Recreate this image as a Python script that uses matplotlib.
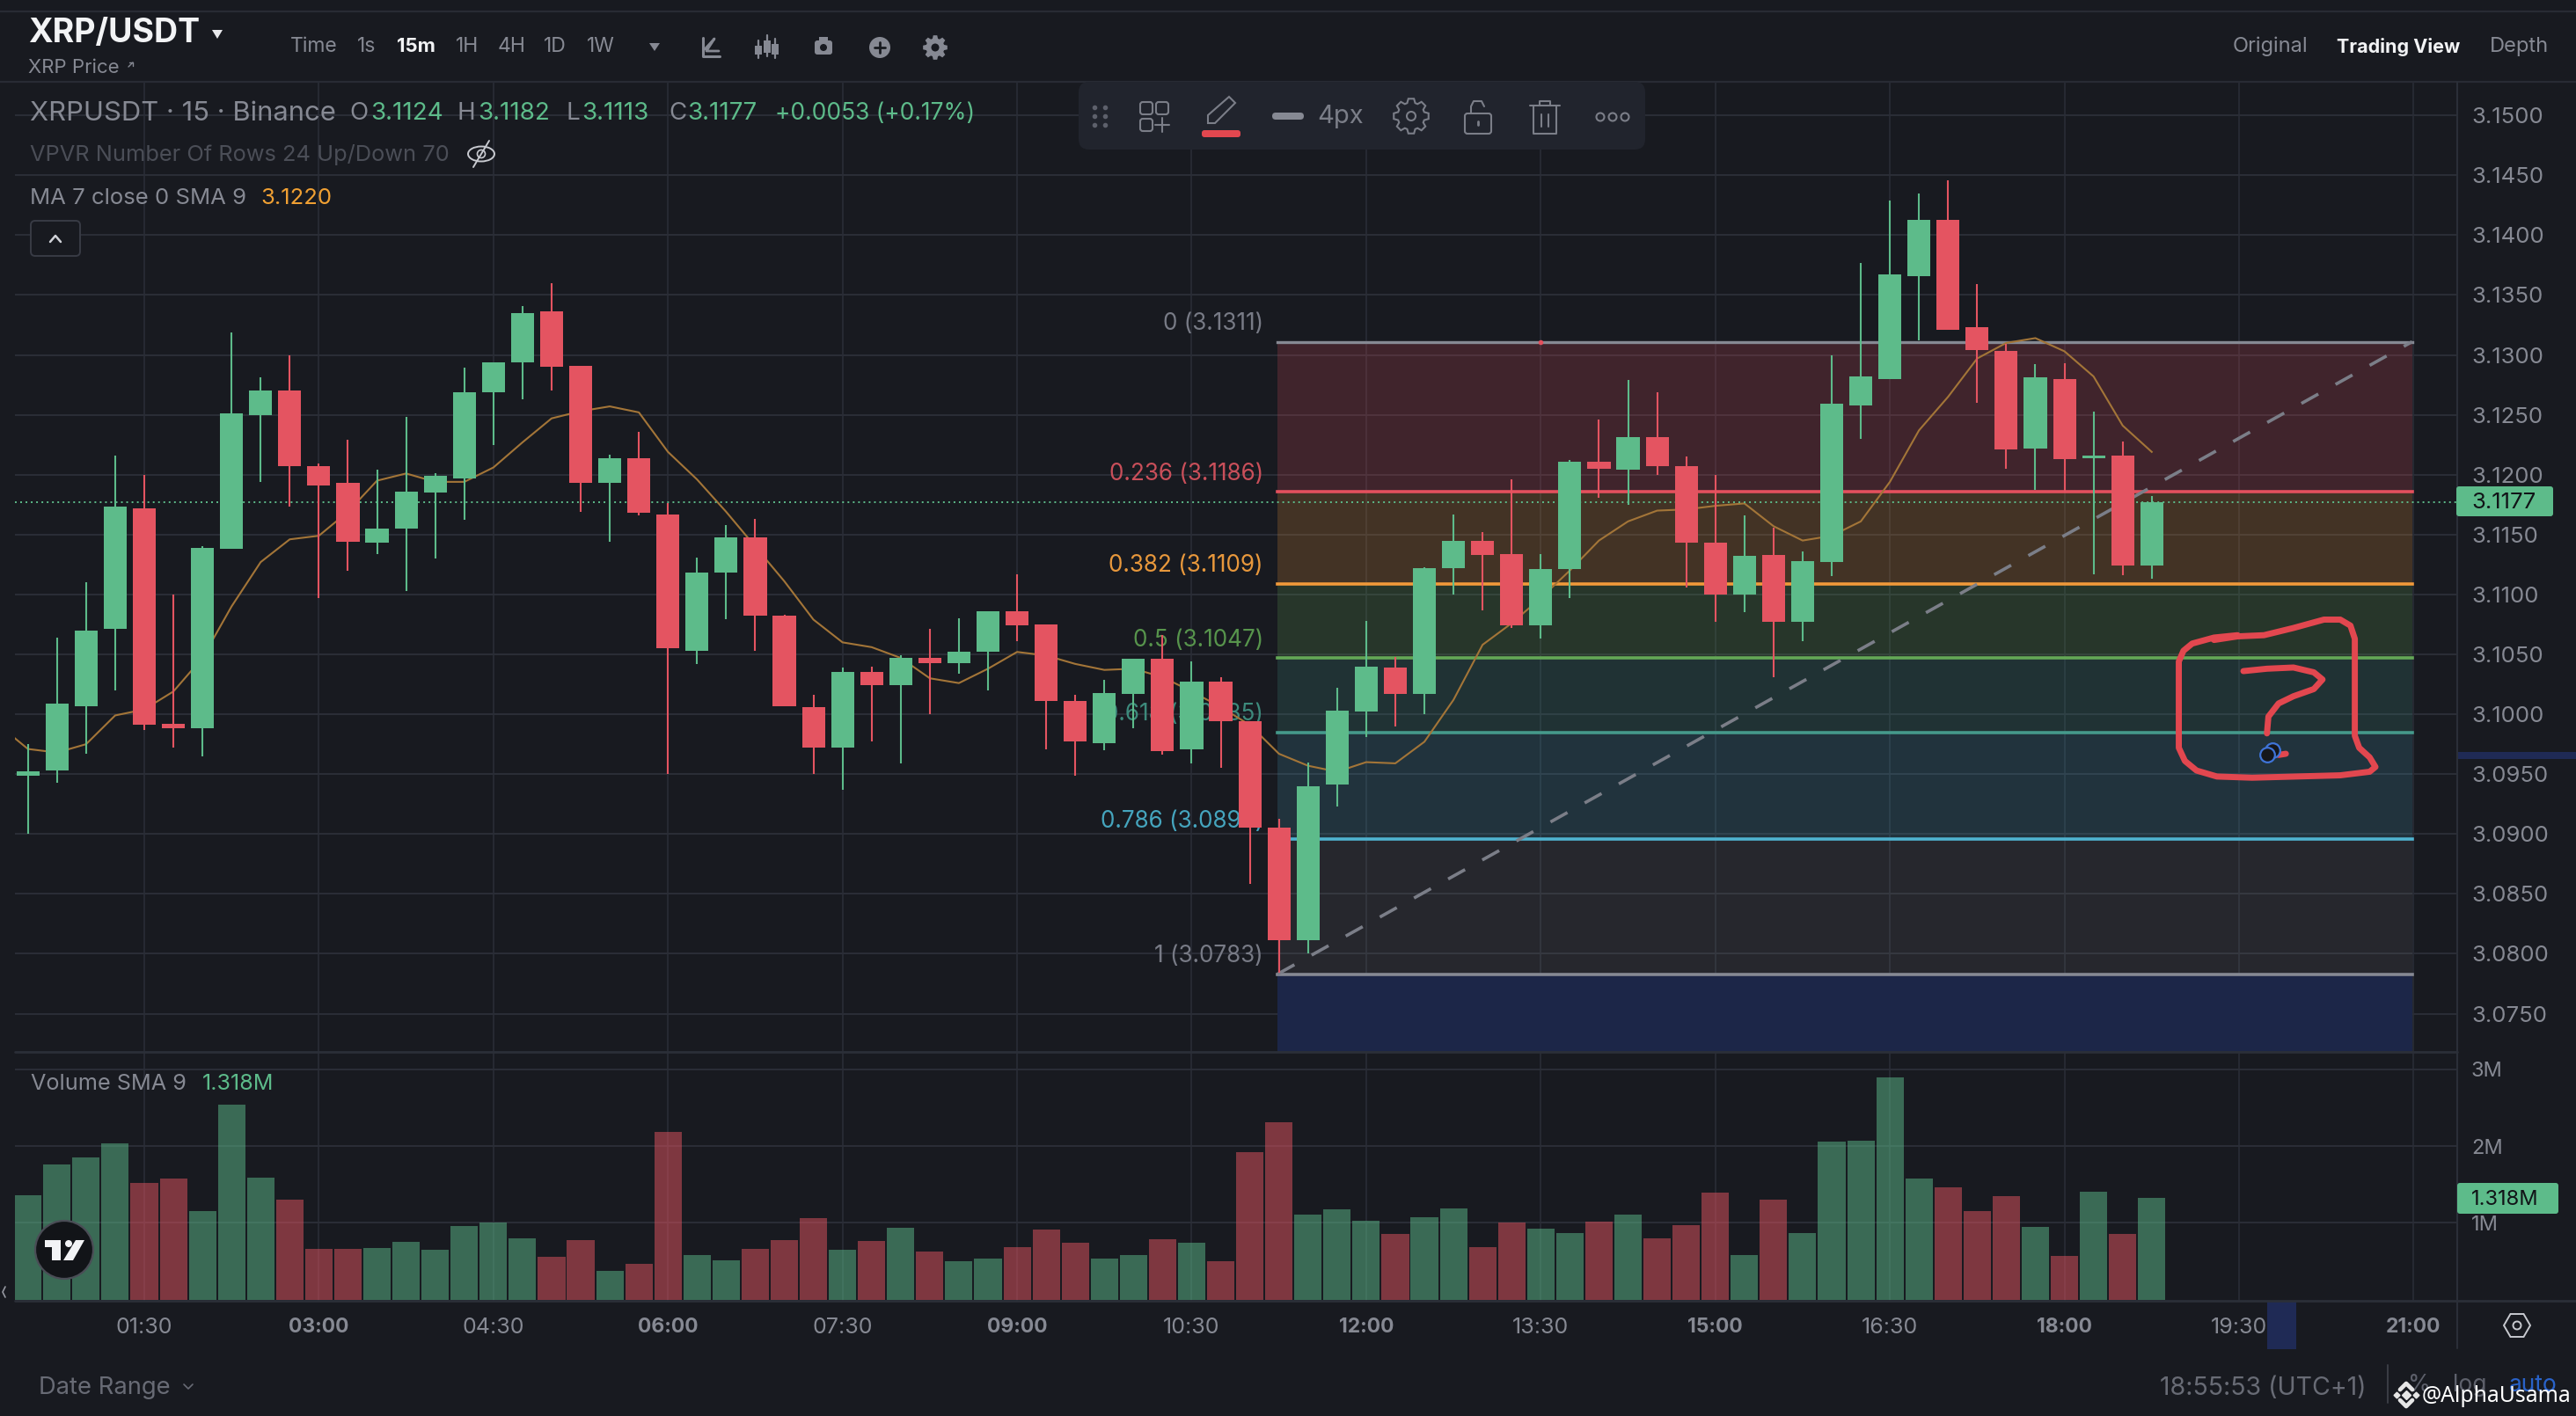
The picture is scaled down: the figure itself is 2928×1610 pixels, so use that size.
# xrp/usdt 15m chart, tradingview dark layout
import math
import matplotlib
matplotlib.use("Agg")
import matplotlib.pyplot as plt
from matplotlib.patches import Rectangle, FancyBboxPatch, Circle, Polygon, RegularPolygon, Ellipse

plt.rcParams['font.family'] = ['Inter', 'DejaVu Sans']

# candles
opens = [3.0949,3.0953,3.1007,3.1071,3.1172,3.0992,3.0988,3.1138,3.1250,3.1270,
         3.1207,3.1193,3.1143,3.1155,3.1185,3.1197,3.1269,3.1294,3.1336,3.1291,
         3.1193,3.1214,3.1167,3.1053,3.1118,3.1148,3.1082,3.1006,3.0972,3.1035,
         3.1024,3.1047,3.1043,3.1052,3.1086,3.1075,3.1011,3.0976,3.1017,3.1046,
         3.0971,3.1027,3.0994,3.0905,3.0811,3.0941,3.1002,3.1039,3.1017,3.1122,
         3.1145,3.1134,3.1074,3.1121,3.1211,3.1204,3.1231,3.1207,3.1143,3.1100,
         3.1133,3.1077,3.1127,3.1258,3.1280,3.1366,3.1413,3.1323,3.1303,3.1222,
         3.1280,3.1214,3.1216,3.1124]
highs = [3.0975,3.1064,3.1110,3.1216,3.1200,3.1100,3.1140,3.1319,3.1281,3.1300,
         3.1209,3.1229,3.1204,3.1248,3.1201,3.1289,3.1294,3.1341,3.1360,3.1291,
         3.1217,3.1236,3.1176,3.1131,3.1158,3.1163,3.1083,3.1016,3.1039,3.1040,
         3.1049,3.1071,3.1080,3.1086,3.1117,3.1075,3.1016,3.1029,3.1046,3.1066,
         3.1044,3.1031,3.0994,3.0913,3.0960,3.1022,3.1078,3.1048,3.1123,3.1167,
         3.1152,3.1196,3.1134,3.1212,3.1246,3.1279,3.1269,3.1215,3.1200,3.1166,
         3.1156,3.1136,3.1300,3.1377,3.1429,3.1435,3.1446,3.1359,3.1309,3.1292,
         3.1293,3.1253,3.1228,3.1182]
lows = [3.0900,3.0943,3.0967,3.1020,3.0987,3.0972,3.0965,3.1138,3.1194,3.1173,
        3.1097,3.1120,3.1134,3.1103,3.1130,3.1162,3.1225,3.1263,3.1270,3.1169,
        3.1144,3.1166,3.0950,3.1042,3.1079,3.1053,3.1007,3.0950,3.0937,3.0977,
        3.0959,3.1000,3.1034,3.1020,3.1061,3.0971,3.0949,3.0970,3.0988,3.0966,
        3.0959,3.0955,3.0858,3.0784,3.0800,3.0923,3.0981,3.0990,3.1000,3.1100,
        3.1087,3.1072,3.1063,3.1097,3.1181,3.1175,3.1200,3.1106,3.1077,3.1085,
        3.1031,3.1061,3.1115,3.1230,3.1280,3.1312,3.1321,3.1260,3.1205,3.1187,
        3.1185,3.1117,3.1116,3.1113]
closes = [3.0952,3.1009,3.1070,3.1173,3.0991,3.0988,3.1139,3.1251,3.1270,3.1207,
          3.1191,3.1144,3.1155,3.1186,3.1199,3.1269,3.1294,3.1335,3.1290,3.1193,
          3.1214,3.1168,3.1055,3.1118,3.1148,3.1082,3.1007,3.0972,3.1035,3.1024,
          3.1047,3.1043,3.1052,3.1086,3.1074,3.1011,3.0977,3.1018,3.1046,3.0969,
          3.1027,3.0994,3.0905,3.0811,3.0940,3.1003,3.1040,3.1017,3.1122,3.1145,
          3.1133,3.1074,3.1121,3.1211,3.1205,3.1231,3.1207,3.1143,3.1100,3.1132,
          3.1077,3.1128,3.1259,3.1282,3.1367,3.1413,3.1321,3.1304,3.1221,3.1281,
          3.1213,3.1216,3.1124,3.1177]

# MA line, first value sits one bar left of the pane
ma_values = [3.0991,3.0971,3.0968,3.0975,3.0999,3.1004,3.1019,3.1047,3.1090,3.1127,
             3.1146,3.1149,3.1169,3.1195,3.1201,3.1194,3.1194,3.1206,3.1227,3.1247,
             3.1253,3.1257,3.1252,3.1219,3.1196,3.1169,3.1140,3.1111,3.1079,3.1060,
             3.1056,3.1047,3.1030,3.1026,3.1038,3.1052,3.1049,3.1042,3.1037,3.1038,
             3.1031,3.1019,3.1006,3.0991,3.0967,3.0957,3.0952,3.0960,3.0959,3.0977,
             3.1012,3.1058,3.1076,3.1097,3.1120,3.1145,3.1161,3.1170,3.1171,3.1174,
             3.1176,3.1157,3.1145,3.1149,3.1161,3.1194,3.1237,3.1265,3.1297,3.1310,
             3.1314,3.1303,3.1282,3.1241,3.1219]

volumes = [1.355,1.756,1.847,2.030,1.515,1.573,1.156,2.538,1.584,1.298,
           0.664,0.664,0.676,0.756,0.653,0.962,1.008,0.802,0.561,0.779,
           0.374,0.469,2.180,0.580,0.515,0.664,0.779,1.065,0.653,0.767,
           0.939,0.630,0.500,0.534,0.687,0.916,0.744,0.534,0.580,0.790,
           0.744,0.504,1.916,2.305,1.110,1.172,1.030,0.859,1.076,1.183,
           0.683,1.000,0.927,0.870,1.019,1.103,0.802,0.973,1.389,0.580,
           1.298,0.870,2.053,2.065,2.893,1.573,1.458,1.149,1.344,0.943,
           0.573,1.401,0.859,1.321]

time_labels = ['01:30','03:00','04:30','06:00','07:30','09:00','10:30','12:00','13:30',
               '15:00','16:30','18:00','19:30','21:00']
time_bars = [4,10,16,22,28,34,40,46,52,58,64,70,76,82]
bold_times = ['03:00','06:00','09:00','12:00','15:00','18:00','21:00']

price_ticks = [3.15,3.145,3.14,3.135,3.13,3.125,3.12,3.115,3.11,3.105,3.10,3.095,3.09,3.085,3.08,3.075]
volume_ticks = [1,2,3]
volume_tick_labels = ['1M','2M','3M']

fib_ratios = ['0','0.236','0.382','0.5','0.618','0.786','1']
fib_levels = [3.1311,3.1186,3.1109,3.1047,3.0985,3.0896,3.0783]
fib_colors = ['#868993','#e4505d','#f0993a','#64a856','#459a8b','#4fb3d0','#868993']
fib_text_colors = ['#787b86','#c94f5a','#e8983c','#57944c','#3d8a7c','#45a5be','#787b86']
fib_start = 42.95
fib_end = 81.95

# hand drawn box and question mark (bar, price)
box_x = [75.95,75.14,74.39,74.09,73.93,73.93,74.14,74.54,75.24,76.45,77.97,79.48,80.49,
         80.69,80.49,80.13,79.98,79.98,79.83,79.48,78.92,77.87,76.86,75.95,75.14]
box_y = [3.1066,3.1064,3.1059,3.1053,3.1044,3.0972,3.0961,3.0953,3.0948,3.0947,3.0948,3.0949,3.0952,
         3.0956,3.0964,3.0972,3.0982,3.1063,3.1074,3.1079,3.1079,3.1072,3.1066,3.1065,3.1062]
mark_x = [76.15,76.96,77.87,78.57,78.87,78.57,77.87,77.36,77.01,76.96]
mark_y = [3.1036,3.1038,3.1039,3.1035,3.1029,3.1021,3.1015,3.1009,3.0998,3.0984]

BG = '#181a20'
GRID = '#2a2d36'
GREEN = '#5dbb8a'
RED = '#e45461'
GREY = '#868993'
W, H = 2928, 1610
PANE_L, PANE_R = 17, 2793

fig = plt.figure(figsize=(W/100, H/100), dpi=100, facecolor=BG)

def pane(top, bottom):
    a = fig.add_axes([PANE_L/W, 1-bottom/H, (PANE_R-PANE_L)/W, (bottom-top)/H], facecolor=BG)
    for s in a.spines.values():
        s.set_visible(False)
    a.set_axisbelow(True)
    a.set_xlim(-0.445, 83.5)
    a.set_xticks(time_bars)
    a.yaxis.tick_right()
    a.grid(True, axis='x', color=GRID, lw=1.2)
    a.grid(True, axis='y', color=GRID, lw=1.5)
    return a

# price pane
ax = pane(93, 1196)
ax.set_ylim(3.07181, 3.1528)
ax.set_yticks(price_ticks)
ax.set_yticklabels(['%.4f' % p for p in price_ticks])
ax.tick_params(axis='y', length=0, pad=11.5, labelsize=18.5, labelcolor=GREY)
ax.tick_params(axis='x', length=0, labelbottom=False)

bands = [('#e4505d',.2),('#f0993a',.2),('#64a856',.2),('#459a8b',.19),('#4fb3d0',.17),('#85868a',.13)]
for i, (c, a) in enumerate(bands):
    ax.fill_between([fib_start, fib_end], fib_levels[i+1], fib_levels[i], color=c, alpha=a, lw=0, zorder=1)
ax.fill_between([fib_start, fib_end], 3.07181, fib_levels[-1], color='#1c2648', lw=0, zorder=1)
for i in range(len(fib_levels)):
    ax.plot([fib_start, fib_end], [fib_levels[i]]*2, color=fib_colors[i], lw=2.6 if i else 2.4, zorder=2)
    ax.annotate('%s (%.4f)' % (fib_ratios[i], fib_levels[i]), xy=(42.46, fib_levels[i]), xytext=(0, 14.5),
                textcoords='offset points', ha='right', va='center', fontsize=18.8, color=fib_text_colors[i], zorder=2)

ax.plot([fib_start, fib_end], [fib_levels[-1], fib_levels[0]], color='#7b7e88', lw=2.6,
        linestyle=(0, (6.1, 6.2)), zorder=3)
ax.plot(range(-1, 74), ma_values, color='#a37538', lw=1.5, zorder=3)
ax.axhline(closes[-1], color=GREEN, lw=1.4, linestyle=(0, (1, 2.1)), zorder=3)

bars = list(range(len(opens)))
colors = [GREEN if c >= o else RED for o, c in zip(opens, closes)]
ax.vlines(bars, lows, highs, colors=colors, lw=1.5, zorder=4)
ax.bar(bars, [abs(c-o) for o, c in zip(opens, closes)], bottom=[min(o, c) for o, c in zip(opens, closes)],
       width=0.79, color=colors, zorder=5)

ax.plot(box_x, box_y, color='#e2474f', lw=5, solid_joinstyle='round', solid_capstyle='round', zorder=6)
ax.plot(mark_x, mark_y, color='#e2474f', lw=5, solid_joinstyle='round', solid_capstyle='round', zorder=6)
ax.plot([77.36, 77.61], [3.0966, 3.0967], color='#e2474f', lw=5, solid_capstyle='round', zorder=6)
ax.plot([77.14, 76.96], [3.0970, 3.0966], ls='', marker='o', ms=12, mfc='#15171c', mec='#3f74d8', mew=1.6, zorder=7)
ax.plot([52], [fib_levels[0]], ls='', marker='o', ms=3, color='#e4505d', zorder=3)

# volume pane
vax = pane(1196, 1479)
vax.set_ylim(-0.015, 3.227)
vax.bar(bars, volumes, width=0.94, color=colors, alpha=0.5, zorder=3)
vax.set_yticks(volume_ticks)
vax.set_yticklabels(volume_tick_labels)
vax.set_xticklabels(time_labels)
vax.tick_params(axis='y', length=0, pad=11.5, labelsize=17, labelcolor=GREY)
vax.tick_params(axis='x', length=0, pad=14, labelsize=18, labelcolor=GREY)
for lab in vax.get_xticklabels():
    if lab.get_text() in bold_times:
        lab.set_fontweight('bold')
        lab.set_fontsize(16.5)

# everything else sits on a pixel overlay
ui = fig.add_axes([0, 0, 1, 1], facecolor='none')
ui.set_xlim(0, W)
ui.set_ylim(H, 0)
ui.axis('off')

def txt(x, y, s, color=GREY, size=15.5, weight='normal', ha='left', **kw):
    ui.text(x, y, s, color=color, fontsize=size, fontweight=weight, ha=ha, va='center', **kw)

def seg(xs, ys, color=GREY, lw=1.6, **kw):
    ui.plot(xs, ys, color=color, lw=lw, solid_capstyle='round', **kw)

def gear(cx, cy, r_out, r_in, **kw):
    pts = []
    for k in range(8):
        a = k * math.pi / 4
        for da, r in [(-0.3, r_in), (-0.16, r_out), (0.16, r_out), (0.3, r_in)]:
            pts.append([cx + r*math.cos(a+da), cy + r*math.sin(a+da)])
    ui.add_patch(Polygon(pts, closed=True, **kw))

for y in [13, 93]:
    seg([0, W], [y, y], color='#282b34', lw=1.6)
seg([PANE_L, PANE_R], [1196, 1196], color='#2b2f38', lw=2)
seg([PANE_L, W], [1479, 1479], color='#2b2f38', lw=2)
seg([PANE_R, PANE_R], [93, 1533], color='#2b2f38', lw=1.5)

# header
txt(32, 38, 'XRP/USDT', color='#f2f3f5', size=27, weight='bold')
ui.add_patch(Polygon([[241, 34], [253, 34], [247, 44]], color='#e8e9ec', lw=0))
txt(32, 77, 'XRP Price', size=16)
seg([146, 151], [76, 71], lw=1)
seg([147, 151, 151], [71, 71, 75], lw=1)
for x, s, c, w in [(330, 'Time', GREY, 'normal'), (406, '1s', GREY, 'normal'), (451, '15m', '#f2f3f5', 'bold'),
                   (518, '1H', GREY, 'normal'), (566, '4H', GREY, 'normal'), (618, '1D', GREY, 'normal'),
                   (667, '1W', GREY, 'normal')]:
    txt(x, 53, s, color=c, size=16.5 if w == 'normal' else 16, weight=w)
ui.add_patch(Polygon([[738, 49], [750, 49], [744, 58]], color=GREY, lw=0))

# header icons
seg([799, 799, 818], [43, 64, 64], lw=2.2)
seg([801, 812, 803, 817], [56, 44, 58, 58], lw=2)
for x, t, b in [(862, 52, 62), (872, 46, 60), (881, 50, 62)]:
    ui.add_patch(Rectangle((x-4, t), 8, b-t, color=GREY, lw=0))
    seg([x, x], [t-6, b+4], lw=1.6)
ui.add_patch(FancyBboxPatch((926, 46), 20, 16, boxstyle='round,pad=0,rounding_size=3', color=GREY, lw=0))
ui.add_patch(Rectangle((931, 42), 10, 5, color=GREY, lw=0))
ui.add_patch(Circle((936, 54), 4, color=BG, lw=0))
ui.add_patch(Circle((1000, 54), 12, color=GREY, lw=0))
seg([994, 1006], [54, 54], color=BG, lw=2)
seg([1000, 1000], [48, 60], color=BG, lw=2)
gear(1063, 54, 14, 10.5, color=GREY, lw=0)
ui.add_patch(Circle((1063, 54), 4.5, color=BG, lw=0))

txt(2538, 53, 'Original', size=17)
txt(2656, 53, 'Trading View', color='#f2f3f5', size=15.5, weight='bold')
txt(2830, 53, 'Depth', size=17)

# legend rows
txt(34, 129, 'XRPUSDT · 15 · Binance', size=22.3)
for x, s, c in [(397, 'O', GREY), (421, '3.1124', GREEN), (520, 'H', GREY), (543, '3.1182', GREEN),
                (643, 'L', GREY), (661, '3.1113', GREEN), (760, 'C', GREY), (781, '3.1177', GREEN)]:
    txt(x, 129, s, color=c, size=20)
txt(881, 129, '+0.0053 (+0.17%)', color=GREEN, size=19)
txt(34, 176, 'VPVR Number Of Rows 24 Up/Down 70', color='#4b4e57', size=18.3)
ui.add_patch(Ellipse((547, 175), 30, 17, fill=False, ec='#c8cad0', lw=1.4))
ui.add_patch(Circle((547, 175), 4.5, fill=False, ec='#c8cad0', lw=1.2))
seg([538, 556], [190, 160], color='#c8cad0', lw=1.4)
txt(34, 225, 'MA 7 close 0 SMA 9', size=18.5)
txt(296, 225, '3.1220', color='#f0a033', size=18.5)
ui.add_patch(FancyBboxPatch((35, 251), 56, 40, boxstyle='round,pad=0,rounding_size=5', fc=BG, ec='#383b45', lw=1.4))
seg([57, 63, 69], [275, 268, 275], color='#d0d2d8', lw=1.8)
txt(35, 1232, 'Volume SMA 9', size=18.2)
txt(230, 1232, '1.318M', color=GREEN, size=18)

# drawing toolbar
ui.add_patch(FancyBboxPatch((1226, 93), 644, 77, boxstyle='round,pad=0,rounding_size=12', fc='#21242d', ec='none', zorder=3))
TI = '#7b7e88'
def tseg(xs, ys, color=TI, lw=1.5):
    ui.plot(xs, ys, color=color, lw=lw, solid_capstyle='round', zorder=4)
ui.plot([1244, 1256]*3, [122, 122, 132, 132, 142, 142], ls='', marker='o', ms=3, color='#5d606b', zorder=4)
for x, y in [(1303, 123), (1321, 123), (1303, 142)]:
    ui.add_patch(FancyBboxPatch((x-7, y-7), 14, 14, boxstyle='round,pad=0,rounding_size=3', fc='none', ec=TI, lw=1.5, zorder=4))
tseg([1321, 1321], [134, 150])
tseg([1313, 1329], [142, 142])
ui.add_patch(Polygon([[1373, 140], [1373, 131], [1397, 110], [1404, 117], [1381, 140]], fc='none', ec=TI, lw=1.5, zorder=4))
ui.add_patch(FancyBboxPatch((1366, 148), 44, 8, boxstyle='round,pad=0,rounding_size=3', fc='#e2474f', ec='none', zorder=4))
ui.add_patch(FancyBboxPatch((1446, 128), 36, 8, boxstyle='round,pad=0,rounding_size=4', fc='#868993', ec='none', zorder=4))
ui.text(1497, 133, '4px', color=TI, fontsize=21, ha='left', va='center', zorder=4)
gear(1604, 132, 20, 15.5, fc='none', ec=TI, lw=1.5, zorder=4)
ui.add_patch(Circle((1604, 132), 5, fc='none', ec=TI, lw=1.5, zorder=4))
ui.add_patch(FancyBboxPatch((1665, 129), 30, 23, boxstyle='round,pad=0,rounding_size=3', fc='none', ec=TI, lw=1.5, zorder=4))
tseg([1672, 1672, 1675, 1684, 1687], [129, 121, 115, 115, 121])
tseg([1680, 1680], [138, 142], lw=2)
tseg([1739, 1773], [120, 120])
tseg([1743, 1743, 1769, 1769], [120, 152, 152, 120])
tseg([1750, 1750, 1762, 1762], [120, 115, 115, 120])
tseg([1752, 1752], [130, 144])
tseg([1760, 1760], [130, 144])
for x in [1819, 1833, 1847]:
    ui.add_patch(Circle((x, 133), 4.5, fc='none', ec=TI, lw=1.5, zorder=4))

# axis tags
ui.add_patch(FancyBboxPatch((2792, 553), 110, 34, boxstyle='round,pad=0,rounding_size=3', fc=GREEN, ec='none', zorder=3))
ui.text(2809, 571, '3.1177', color='#111317', fontsize=18.5, ha='left', va='center', zorder=4)
ui.add_patch(FancyBboxPatch((2793, 1345), 115, 35, boxstyle='round,pad=0,rounding_size=3', fc=GREEN, ec='none', zorder=3))
ui.text(2809, 1364, '1.318M', color='#111317', fontsize=17, ha='left', va='center', zorder=4)
ui.add_patch(Rectangle((2794, 855), 134, 8, color='#1f2a55', lw=0))
ui.add_patch(Rectangle((2577, 1480), 33, 54, color='#1f2a55', lw=0))

# tv logo
ui.add_patch(Circle((73, 1421), 33, fc='#121418', ec='#4a4d56', lw=1.6, zorder=4))
ui.add_patch(Polygon([[51, 1410], [69, 1410], [69, 1433], [59, 1433], [59, 1418], [51, 1418]], color='#f2f3f5', lw=0, zorder=5))
ui.add_patch(Polygon([[86, 1410], [96, 1410], [83, 1433], [72, 1433]], color='#f2f3f5', lw=0, zorder=5))
ui.add_patch(Circle((78, 1414), 4, color='#f2f3f5', lw=0, zorder=5))
seg([6, 3, 6], [1463, 1469, 1475], color='#9598a1', lw=1.2)

# settings hexagon
ui.add_patch(RegularPolygon((2861, 1507), 6, radius=15, orientation=0.5236, fc='none', ec='#c8cad0', lw=1.4))
ui.add_patch(Circle((2861, 1507), 4.5, fc='none', ec='#c8cad0', lw=1.4))

# bottom bar
txt(44, 1578, 'Date Range', color='#686b75', size=19.7)
seg([209, 214, 219], [1574, 1579, 1574], color='#686b75', lw=1.2)
txt(2455, 1578, '18:55:53 (UTC+1)', color='#686b75', size=20.5)
seg([2714, 2714], [1552, 1595], color='#3a3d46', lw=1.4)
txt(2737, 1575, '%', color='#5d606b', size=19)
txt(2788, 1575, 'log', color='#5d606b', size=19)
txt(2852, 1575, 'auto', color='#2962c8', size=19)

# binance watermark
LOGO = '#e6e6e6'
ui.plot([2735], [1586], ls='', marker='D', ms=5, color=LOGO, zorder=5)
ui.plot([2724, 2746], [1586, 1586], ls='', marker='D', ms=3.5, color=LOGO, zorder=5)
seg([2728, 2735, 2742], [1580, 1573, 1580], color=LOGO, lw=3.4, zorder=5)
seg([2728, 2735, 2742], [1592, 1599, 1592], color=LOGO, lw=3.4, zorder=5)
ui.text(2753, 1587, '@AlphaUsama', color='#ffffff', fontsize=17.8, family=['Noto Sans', 'DejaVu Sans'],
        ha='left', va='center', zorder=6)

fig.savefig('out.png', dpi=100, facecolor=BG)
